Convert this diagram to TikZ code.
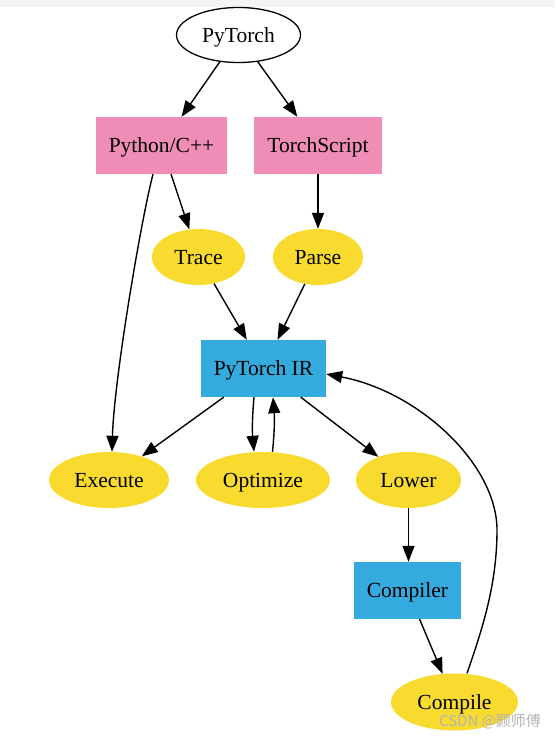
\documentclass[tikz,border=0pt]{standalone}
\usepackage{fontspec}
\setmainfont{Liberation Serif}
\newfontfamily\cjkfont{Noto Sans CJK SC}
\usetikzlibrary{shapes.geometric,arrows.meta}
\definecolor{pinkfill}{HTML}{F08DB6}
\definecolor{bluefill}{HTML}{35AADF}
\definecolor{yellowfill}{HTML}{F9DB2F}
\definecolor{topstrip}{HTML}{F4F4F4}
\definecolor{wmgray}{HTML}{B4B4B4}
\begin{document}
\begin{tikzpicture}[x=1pt,y=-1pt,
  base/.style={inner sep=0pt, text height=15pt, text depth=1pt, font=\fontsize{21.5}{24}\selectfont},
  pinkbox/.style={base, rectangle, fill=pinkfill, minimum height=57pt},
  bluebox/.style={base, rectangle, fill=bluefill, minimum height=57pt},
  yell/.style={base, ellipse, fill=yellowfill, minimum height=56pt},
  whiteell/.style={base, ellipse, draw=black, line width=1.3pt, fill=white, minimum height=55pt},
  arr/.style={-{Triangle[length=16pt,width=12pt]}, line width=1.4pt, black}]
\useasboundingbox (0,0) rectangle (555,739);
\fill[topstrip] (0,0) rectangle (555,7);
\node[whiteell, minimum width=124pt] (pytorch) at (238.5,35) {PyTorch};
\node[pinkbox, minimum width=131pt] (pyc) at (161.5,145.5) {Python/C++};
\node[pinkbox, minimum width=128pt] (ts) at (318,145.5) {TorchScript};
\node[yell, minimum width=93pt] (trace) at (198.5,257) {Trace};
\node[yell, minimum width=90pt] (parse) at (318,257) {Parse};
\node[bluebox, minimum width=125pt] (ir) at (263.5,368.5) {PyTorch IR};
\node[yell, minimum width=120pt] (exec) at (109,480) {Execute};
\node[yell, minimum width=134pt] (opt) at (263,480) {Optimize};
\node[yell, minimum width=105pt] (lower) at (408.5,480) {Lower};
\node[bluebox, minimum width=107pt] (compiler) at (407.5,590.5) {Compiler};
\node[yell, minimum width=127pt, minimum height=57pt] (compile) at (454.5,702) {Compile};
\draw[arr] (pytorch) -- (pyc);
\draw[arr] (pytorch) -- (ts);
\draw[arr] (pyc) -- (trace);
\draw[arr] ([xshift=-8.5pt]pyc.south) .. controls (141,220) and (114,380) .. ([xshift=3pt]exec.north);
\draw[arr] (ts) -- (parse);
\draw[arr] (trace) -- (ir);
\draw[arr] (parse) -- (ir);
\draw[arr] (ir) -- (exec);
\draw[arr] ([xshift=-9.5pt]ir.south) to[bend right=5] ([xshift=-9pt]opt.north);
\draw[arr] ([xshift=9.5pt]opt.north) to[bend right=5] ([xshift=9.5pt]ir.south);
\draw[arr] (ir) -- (lower);
\draw[arr] (lower.south) -- (lower.south |- compiler.north);
\draw[arr] (compiler) -- (compile);
\draw[arr] ([xshift=12.5pt]compile.north) .. controls (482,630) and (497,585) .. (497,530) .. controls (497,465) and (420,392) .. ([yshift=-5.5pt]ir.east);
\node[font=\cjkfont\fontsize{15}{15}\selectfont, text=wmgray, inner sep=0pt] (wm) at (490,721) {CSDN @颢师傅};
\end{tikzpicture}
\end{document}
